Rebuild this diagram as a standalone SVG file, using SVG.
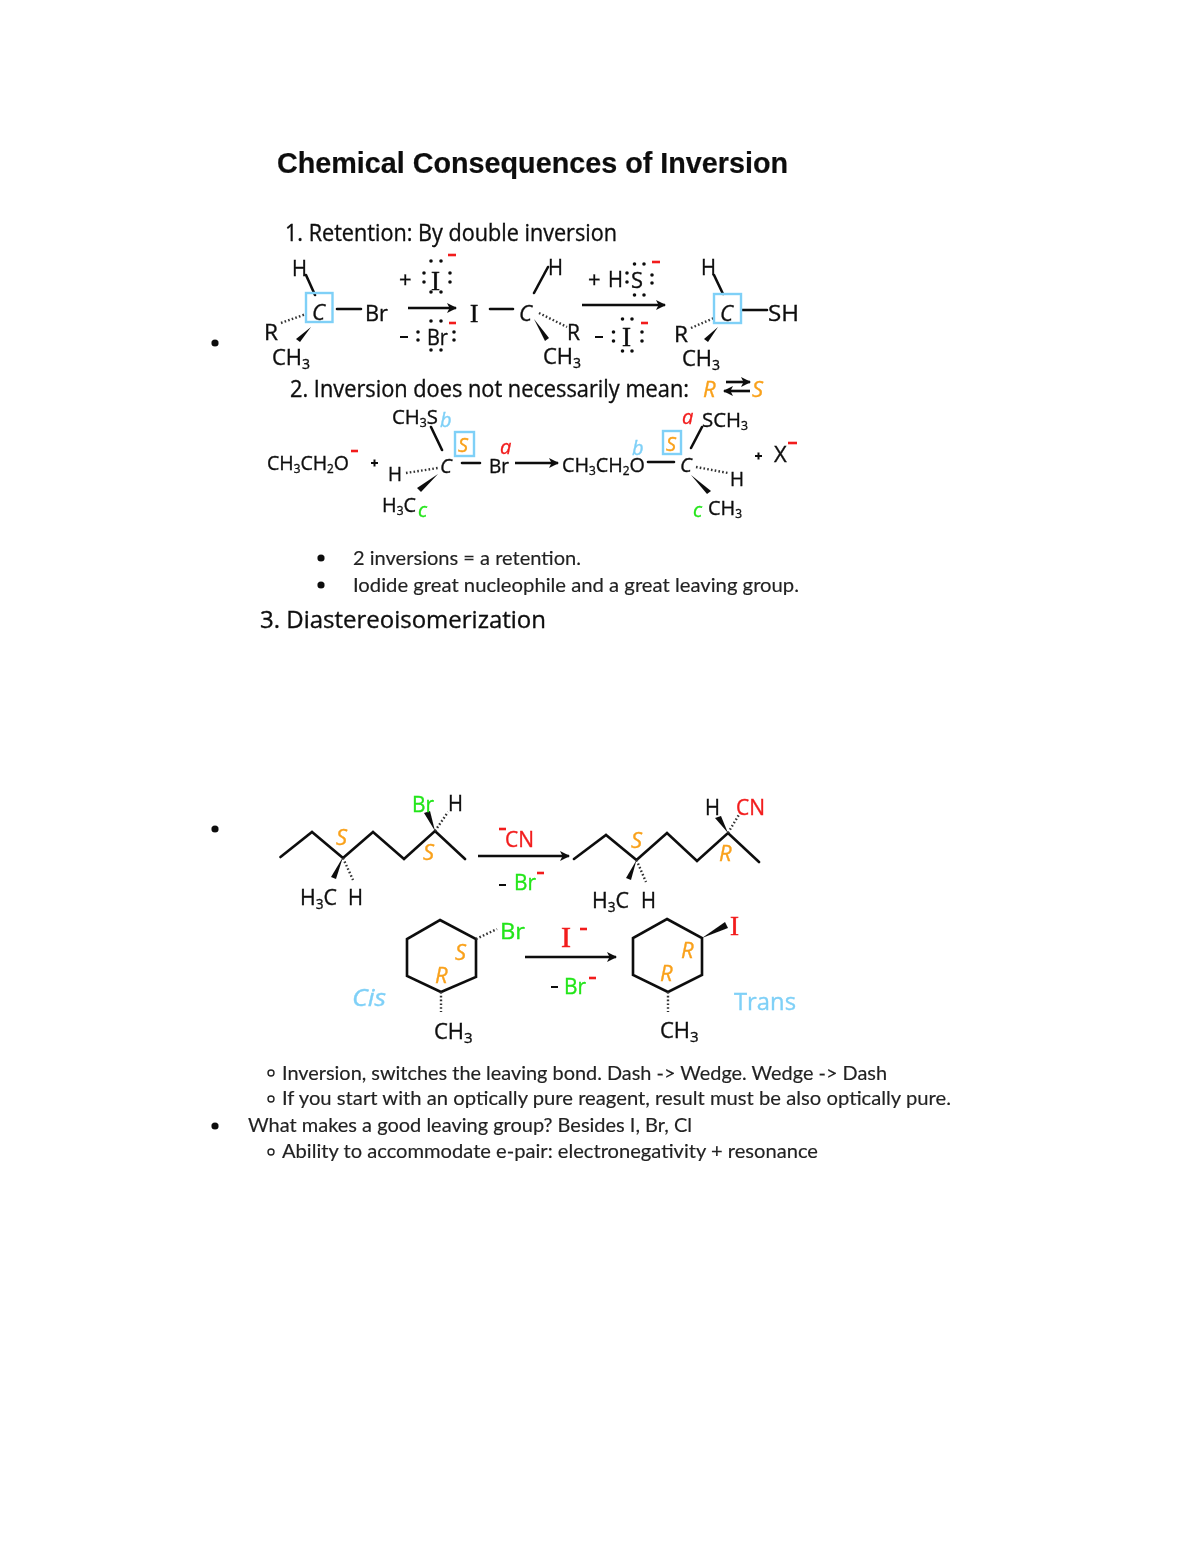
<svg xmlns="http://www.w3.org/2000/svg" width="1200" height="1553" viewBox="0 0 1200 1553">
<style>
text{font-family:"Open Sans","DejaVu Sans",sans-serif;fill:#111;stroke:#111;stroke-width:.35}
.t{font-family:"Liberation Sans",Arial,sans-serif;font-weight:700;font-size:29px;stroke-width:.2}
.h{font-size:23px}
.a{font-size:22px}
.i{font-style:italic}
.s{font-family:"Liberation Serif",serif;stroke-width:.5}
.b{font-family:Lato,"Open Sans",sans-serif;font-size:19px;fill:#222;stroke:#222;stroke-width:.15}
.m{font-size:20px}
.o{fill:#f9a11b;stroke:#f9a11b}.r{fill:#f21c1c;stroke:#f21c1c}.g{fill:#22e51a;stroke:#22e51a}.l{fill:#7fd0f7;stroke:#7fd0f7}
.bond{stroke:#111;stroke-width:2.6;fill:none;stroke-linecap:round;stroke-linejoin:miter}
.arrow{stroke:#111;stroke-width:2.6;fill:none;marker-end:url(#ah)}
.dash{stroke:#333;stroke-width:2.4;fill:none;stroke-dasharray:1.6 2.2}
.w{fill:#111}
.box{fill:none;stroke:#7fd0f7;stroke-width:2.4}
.minus{stroke:#f21c1c;stroke-width:2.6}
.mk{stroke:#111;stroke-width:2}
.dots{stroke:#111;stroke-width:3.6;stroke-linecap:round;fill:none}
.blt{fill:#111}.ring{fill:none;stroke:#222;stroke-width:1.4}
</style>
<defs>
<marker id="ah" markerWidth="11" markerHeight="10" refX="9" refY="5" orient="auto" markerUnits="userSpaceOnUse"><path d="M0 0L10 5L0 10L2.500 5Z" fill="#111"/></marker>
<filter id="soft" x="0" y="0" width="1" height="1"><feGaussianBlur stdDeviation="0.4"/></filter>
</defs>
<rect width="1200" height="1553" fill="#fff"/>
<g filter="url(#soft)">
<g id="heading"><text class="t" x="277" y="173" textLength="511" lengthAdjust="spacingAndGlyphs">Chemical Consequences of Inversion</text></g>
<g id="section-1-title"><text class="h" x="285" y="241" textLength="332" lengthAdjust="spacingAndGlyphs">1. Retention: By double inversion</text></g>
<g id="bullets">
<circle class="blt" cx="215" cy="343" r="3.6"/><circle class="blt" cx="321" cy="558" r="3.6"/><circle class="blt" cx="321" cy="585" r="3.6"/><circle class="blt" cx="215" cy="829" r="3.6"/><circle class="blt" cx="215" cy="1126" r="3.6"/>
<circle class="ring" cx="271" cy="1073" r="3"/><circle class="ring" cx="271" cy="1099" r="3"/><circle class="ring" cx="271" cy="1152" r="3"/>
</g>
<g id="connectors">
<path class="bond" d="M306 275L315 295M337 309H361M490 309H513M534 293L548 267M714 275L723 294M742 310H767M431 427L442 450M462 463H480M648 462H674M691 448L702 427"/>
<path class="dash" d="M281 323L306 314M539 313L567 327M691 328L714 318M406 473L438 468M696 467L728 473"/>
<path class="w" d="M311 327L296 339L300 342ZM534 319L545 341L549 338ZM718 327L704 339L708 342ZM438 474L417 488L421 492ZM691 475L707 494L711 491Z"/>
<path class="arrow" d="M408 308H456"/><path class="arrow" d="M582 305H665"/><path class="arrow" d="M515 463H558"/><path class="arrow" d="M478 856H569"/><path class="arrow" d="M525 957H616"/>
<path class="arrow" d="M726 382H750"/><path class="arrow" d="M750 391H724"/>
<path class="bond" d="M280.500 857L312 832L343 858L373 832L404 859L435 831L465 859M574 859L606 835L636.500 860L667 833L697 861L728 833L759 862"/>
<path class="w" d="M343 857L331 877L336 879ZM435 831L424 813L430 811ZM636.500 860L626 878L631 880ZM728 833L715 818L721 816Z"/>
<path class="dash" d="M343 858L353 880M435 831L448 812M636.500 860L646 882M728 833L740 813"/>
<path class="bond" d="M440 920L476 939V977L441 992L407 976V939ZM667 919L702 938V975L668 992L633 975V938Z"/>
<path class="dash" d="M476 939L497 929M441 992V1012M668 992V1012"/>
<path class="w" d="M702 938L725 922L728 928Z"/>
</g>
<g id="reactant-1"><rect class="box" x="306" y="293" width="26.500" height="29"/>
<text class="a" x="292" y="276" textLength="15" lengthAdjust="spacingAndGlyphs">H</text><text class="a i" x="312" y="320">C</text><text class="a" x="365" y="321" textLength="23" lengthAdjust="spacingAndGlyphs">Br</text><text class="a" x="264" y="340" textLength="14" lengthAdjust="spacingAndGlyphs">R</text><text class="a" x="272" y="365">CH<tspan font-size="14" dy="4">3</tspan></text></g>
<g id="reagents-1"><text class="a" x="399" y="287">+</text><text class="s" font-size="27" x="431" y="290">I</text><path class="dots" d="M431 261h0M441 261h0M431 292h0M441 292h0M424 273h0M424 282h0M450 273h0M450 282h0"/><path class="minus" d="M448 255h8"/>
<path class="mk" d="M400 337h8"/><text class="a" x="427" y="345" textLength="21" lengthAdjust="spacingAndGlyphs">Br</text><path class="dots" d="M431 321h0M441 321h0M431 350h0M441 350h0M418 332h0M418 340h0M454 332h0M454 340h0"/><path class="minus" d="M449 323h7"/></g>
<g id="intermediate-1"><text class="s" font-size="25" x="470" y="322">I</text><text class="a i" x="519" y="321">C</text><text class="a" x="548" y="275" textLength="15" lengthAdjust="spacingAndGlyphs">H</text><text class="a" x="567" y="340" textLength="13" lengthAdjust="spacingAndGlyphs">R</text><text class="a" x="543" y="364">CH<tspan font-size="14" dy="4">3</tspan></text></g>
<g id="reagents-2"><text class="a" x="588" y="287">+</text><text class="a" x="608" y="287" textLength="15" lengthAdjust="spacingAndGlyphs">H</text><text class="a" x="631" y="288" textLength="12" lengthAdjust="spacingAndGlyphs">S</text><path class="dots" d="M634.500 264h0M644 264h0M634.500 295h0M644 295h0M627 273h0M627 282h0M652 275h0M652 283h0"/><path class="minus" d="M652 262h8"/>
<path class="mk" d="M595 337h8"/><text class="s" font-size="27" x="622" y="346">I</text><path class="dots" d="M622.500 319h0M632 319h0M622.500 351h0M632 351h0M613.500 332h0M613.500 341h0M642 332h0M642 341h0"/><path class="minus" d="M641 323h7"/></g>
<g id="product-1"><rect class="box" x="714" y="294" width="27" height="29"/><text class="a" x="701" y="275" textLength="15" lengthAdjust="spacingAndGlyphs">H</text><text class="a i" x="720" y="321">C</text><text class="a" x="768" y="321" textLength="31" lengthAdjust="spacingAndGlyphs">SH</text><text class="a" x="674" y="342" textLength="14" lengthAdjust="spacingAndGlyphs">R</text><text class="a" x="682" y="366">CH<tspan font-size="14" dy="4">3</tspan></text></g>
<g id="section-2-title"><text class="h" x="290" y="397" textLength="399" lengthAdjust="spacingAndGlyphs">2. Inversion does not necessarily mean:</text><text class="a i o" x="703" y="397">R</text><text class="a i o" x="752" y="397">S</text></g>
<g id="reactant-2"><text class="m" x="267" y="470" textLength="82" lengthAdjust="spacingAndGlyphs">CH<tspan font-size="12" dy="3">3</tspan><tspan dy="-3">CH</tspan><tspan font-size="12" dy="3">2</tspan><tspan dy="-3">O</tspan></text><path class="minus" d="M351 451h7"/><path class="mk" d="M371 463h7M374.500 459.500v7"/>
<text class="m" x="392" y="424" textLength="46" lengthAdjust="spacingAndGlyphs">CH<tspan font-size="12" dy="3">3</tspan><tspan dy="-3">S</tspan></text><text class="m i l" x="440" y="427">b</text><rect class="box" x="455" y="432" width="19" height="24"/><text class="m i o" x="458" y="452">S</text><text class="m i r" x="500" y="454">a</text>
<text class="m" x="388" y="481" textLength="14" lengthAdjust="spacingAndGlyphs">H</text><text class="m i" x="440" y="473">C</text><text class="m" x="489" y="473" textLength="20" lengthAdjust="spacingAndGlyphs">Br</text><text class="m" x="382" y="512" textLength="34" lengthAdjust="spacingAndGlyphs">H<tspan font-size="12" dy="3">3</tspan><tspan dy="-3">C</tspan></text><text class="m i g" x="418" y="517">c</text></g>
<g id="product-2"><text class="m" x="562" y="472" textLength="83" lengthAdjust="spacingAndGlyphs">CH<tspan font-size="12" dy="3">3</tspan><tspan dy="-3">CH</tspan><tspan font-size="12" dy="3">2</tspan><tspan dy="-3">O</tspan></text><text class="m i l" x="632" y="455">b</text><rect class="box" x="663" y="431" width="18" height="23"/><text class="m i o" x="666" y="451">S</text><text class="m i r" x="682" y="424">a</text><text class="m" x="702" y="427" textLength="46" lengthAdjust="spacingAndGlyphs">SCH<tspan font-size="12" dy="3">3</tspan></text><text class="m i" x="680" y="472">C</text><text class="m" x="730" y="486" textLength="14" lengthAdjust="spacingAndGlyphs">H</text><text class="m i g" x="693" y="517">c</text><text class="m" x="708" y="515" textLength="34" lengthAdjust="spacingAndGlyphs">CH<tspan font-size="12" dy="3">3</tspan></text><path class="mk" d="M755 456h7M758.500 452.500v7"/><text class="a" x="774" y="462">X</text><path class="minus" d="M788 443h9"/></g>
<g id="notes-1"><text class="b" x="353" y="565" textLength="228" lengthAdjust="spacingAndGlyphs">2 inversions = a retention.</text><text class="b" x="353" y="592" textLength="446" lengthAdjust="spacingAndGlyphs">Iodide great nucleophile and a great leaving group.</text></g>
<g id="section-3-title"><text class="h" style="font-size:24px" x="260" y="628" textLength="286" lengthAdjust="spacingAndGlyphs">3. Diastereoisomerization</text></g>
<g id="chain-reactant"><text class="a i o" x="336" y="845">S</text><text class="a i o" x="423" y="860">S</text><text class="a g" x="412" y="812" textLength="22" lengthAdjust="spacingAndGlyphs">Br</text><text class="a" x="448" y="811" textLength="15" lengthAdjust="spacingAndGlyphs">H</text><text class="a" x="300" y="905" textLength="37" lengthAdjust="spacingAndGlyphs">H<tspan font-size="14" dy="4">3</tspan><tspan dy="-4">C</tspan></text><text class="a" x="348" y="905" textLength="15" lengthAdjust="spacingAndGlyphs">H</text></g>
<g id="chain-reagents"><path class="minus" d="M499 829h7"/><text class="a r" x="505" y="847" textLength="29" lengthAdjust="spacingAndGlyphs">CN</text><path class="mk" d="M499 885h7"/><text class="a g" x="514" y="890" textLength="22" lengthAdjust="spacingAndGlyphs">Br</text><path class="minus" d="M537 873h7"/></g>
<g id="chain-product"><text class="a i o" x="631" y="848">S</text><text class="a i o" x="719" y="861">R</text><text class="a" x="705" y="815" textLength="15" lengthAdjust="spacingAndGlyphs">H</text><text class="a r" x="736" y="815" textLength="29" lengthAdjust="spacingAndGlyphs">CN</text><text class="a" x="592" y="908" textLength="37" lengthAdjust="spacingAndGlyphs">H<tspan font-size="14" dy="4">3</tspan><tspan dy="-4">C</tspan></text><text class="a" x="641" y="908" textLength="15" lengthAdjust="spacingAndGlyphs">H</text></g>
<g id="cis-ring"><text class="a g" x="500" y="939" textLength="25" lengthAdjust="spacingAndGlyphs">Br</text><text class="a i o" x="455" y="960">S</text><text class="a i o" x="435" y="983">R</text><text class="a" x="434" y="1039">CH<tspan font-size="15" dy="4">3</tspan></text><text class="a i l" style="font-size:24px" x="352" y="1006" textLength="34" lengthAdjust="spacingAndGlyphs">Cis</text></g>
<g id="ring-reagents"><text class="s r" font-size="30" x="561" y="947">I</text><path class="minus" d="M580 929h7"/><path class="mk" d="M551 987h7"/><text class="a g" x="564" y="994" textLength="22" lengthAdjust="spacingAndGlyphs">Br</text><path class="minus" d="M589 978h7"/></g>
<g id="trans-ring"><text class="s r" font-size="27" x="730" y="935">I</text><text class="a i o" x="681" y="958">R</text><text class="a i o" x="660" y="981">R</text><text class="a" x="660" y="1038">CH<tspan font-size="15" dy="4">3</tspan></text><text class="a l" style="font-size:24px" x="734" y="1010" textLength="62" lengthAdjust="spacingAndGlyphs">Trans</text></g>
<g id="notes-2"><text class="b" x="282" y="1080" textLength="605" lengthAdjust="spacingAndGlyphs">Inversion, switches the leaving bond. Dash -&gt; Wedge. Wedge -&gt; Dash</text><text class="b" x="282" y="1105" textLength="669" lengthAdjust="spacingAndGlyphs">If you start with an optically pure reagent, result must be also optically pure.</text><text class="b" x="248" y="1132" textLength="444" lengthAdjust="spacingAndGlyphs">What makes a good leaving group? Besides I, Br, Cl</text><text class="b" x="282" y="1158" textLength="536" lengthAdjust="spacingAndGlyphs">Ability to accommodate e-pair: electronegativity + resonance</text></g>
</g>
</svg>
